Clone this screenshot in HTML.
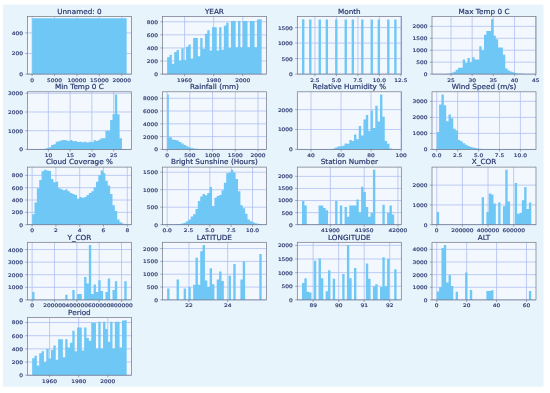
<!DOCTYPE html>
<html><head><meta charset="utf-8"><title>Histograms</title>
<style>html,body{margin:0;padding:0;background:#fff;width:550px;height:393px;overflow:hidden}svg{display:block;filter:blur(0.35px)}</style>
</head><body>
<svg width="550" height="393" viewBox="0 0 550 393">
<rect x="0" y="0" width="550" height="393" fill="#ffffff"/>
<rect x="2.8" y="4.6" width="540.7" height="382.2" fill="#e8f4fc"/>
<g fill="#f2f8fe"><rect x="27.4" y="16.5" width="104" height="57.6"/><rect x="162.4" y="16.5" width="104" height="57.6"/><rect x="297.3" y="16.5" width="104" height="57.6"/><rect x="432" y="16.5" width="104" height="57.6"/><rect x="27.4" y="91.8" width="104" height="57.6"/><rect x="162.4" y="91.8" width="104" height="57.6"/><rect x="297.3" y="91.8" width="104" height="57.6"/><rect x="432" y="91.8" width="104" height="57.6"/><rect x="27.4" y="167.1" width="104" height="57.6"/><rect x="162.4" y="167.1" width="104" height="57.6"/><rect x="297.3" y="167.1" width="104" height="57.6"/><rect x="432" y="167.1" width="104" height="57.6"/><rect x="27.4" y="242.3" width="104" height="57.6"/><rect x="162.4" y="242.3" width="104" height="57.6"/><rect x="297.3" y="242.3" width="104" height="57.6"/><rect x="432" y="242.3" width="104" height="57.6"/><rect x="27.4" y="317.6" width="104" height="57.6"/></g>
<path d="M32.13 16.5V74.1M54.53 16.5V74.1M76.94 16.5V74.1M99.34 16.5V74.1M121.74 16.5V74.1M27.4 74.1H131.4M27.4 53.49H131.4M27.4 32.88H131.4M184.58 16.5V74.1M213.67 16.5V74.1M242.76 16.5V74.1M162.4 74.1H266.4M162.4 61.02H266.4M162.4 47.94H266.4M162.4 34.85H266.4M162.4 21.77H266.4M314.92 16.5V74.1M336.41 16.5V74.1M357.9 16.5V74.1M379.38 16.5V74.1M400.87 16.5V74.1M297.3 74.1H401.3M297.3 58.58H401.3M297.3 43.07H401.3M297.3 27.55H401.3M450.99 16.5V74.1M472.15 16.5V74.1M493.31 16.5V74.1M514.47 16.5V74.1M535.63 16.5V74.1M432 74.1H536M432 62.16H536M432 50.22H536M432 38.28H536M432 26.34H536M48.39 91.8V149.4M70.14 91.8V149.4M91.88 91.8V149.4M113.63 91.8V149.4M27.4 149.4H131.4M27.4 130.7H131.4M27.4 112H131.4M27.4 93.3H131.4M167.13 91.8V149.4M189.85 91.8V149.4M212.58 91.8V149.4M235.31 91.8V149.4M258.04 91.8V149.4M162.4 149.4H266.4M162.4 136.62H266.4M162.4 123.83H266.4M162.4 111.05H266.4M162.4 98.27H266.4M311.03 91.8V149.4M341.05 91.8V149.4M371.06 91.8V149.4M401.07 91.8V149.4M297.3 149.4H401.3M297.3 129.5H401.3M297.3 109.61H401.3M436.73 91.8V149.4M457.64 91.8V149.4M478.56 91.8V149.4M499.48 91.8V149.4M520.4 91.8V149.4M432 149.4H536M432 133.38H536M432 117.36H536M432 101.35H536M32.13 167.1V224.7M55.91 167.1V224.7M79.7 167.1V224.7M103.48 167.1V224.7M127.27 167.1V224.7M27.4 224.7H131.4M27.4 212.37H131.4M27.4 200.03H131.4M27.4 187.7H131.4M27.4 175.36H131.4M167.13 167.1V224.7M188.48 167.1V224.7M209.83 167.1V224.7M231.18 167.1V224.7M252.53 167.1V224.7M162.4 224.7H266.4M162.4 207.19H266.4M162.4 189.68H266.4M162.4 172.18H266.4M330.39 167.1V224.7M364.16 167.1V224.7M397.92 167.1V224.7M297.3 224.7H401.3M297.3 212.61H401.3M297.3 200.53H401.3M297.3 188.44H401.3M297.3 176.36H401.3M436.73 167.1V224.7M462.38 167.1V224.7M488.04 167.1V224.7M513.7 167.1V224.7M432 224.7H536M432 204.91H536M432 185.11H536M32.13 242.3V299.9M54.48 242.3V299.9M76.83 242.3V299.9M99.18 242.3V299.9M121.53 242.3V299.9M27.4 299.9H131.4M27.4 287.32H131.4M27.4 274.73H131.4M27.4 262.15H131.4M27.4 249.56H131.4M188.98 242.3V299.9M227.64 242.3V299.9M162.4 299.9H266.4M162.4 287.07H266.4M162.4 274.23H266.4M162.4 261.4H266.4M162.4 248.56H266.4M313.13 242.3V299.9M338.65 242.3V299.9M364.16 242.3V299.9M389.68 242.3V299.9M297.3 299.9H401.3M297.3 286.27H401.3M297.3 272.64H401.3M297.3 259.01H401.3M297.3 245.38H401.3M436.73 242.3V299.9M466.65 242.3V299.9M496.57 242.3V299.9M526.49 242.3V299.9M432 299.9H536M432 287.27H536M432 274.63H536M432 262H536M432 249.36H536M49.58 317.6V375.2M78.67 317.6V375.2M107.76 317.6V375.2M27.4 375.2H131.4M27.4 362.03H131.4M27.4 348.87H131.4M27.4 335.7H131.4M27.4 322.54H131.4" stroke="#acbcf2" stroke-width="0.75" fill="none"/>
<path fill="#6fc7f5" d="M32.13 74.1V18.35H34.49V18.35H36.85V18.35H39.22V18.35H41.58V18.35H43.95V18.35H46.31V18.35H48.67V18.35H51.04V18.35H53.4V18.35H55.76V18.35H58.13V18.35H60.49V18.35H62.85V18.35H65.22V18.35H67.58V18.35H69.95V18.35H72.31V18.35H74.67V18.35H77.04V18.35H79.4V18.35H81.76V18.35H84.13V18.35H86.49V18.35H88.85V18.35H91.22V18.35H93.58V18.35H95.95V18.35H98.31V18.35H100.67V18.35H103.04V18.35H105.4V18.35H107.76V18.35H110.13V18.35H112.49V18.35H114.85V18.35H117.22V18.35H119.58V18.35H121.95V18.35H124.31V18.35H126.67V74.1ZM167.13 74.1V57.16H169.49V54.74H171.85V63.77H174.22V52.12H176.58V50.03H178.95V60.56H181.31V48.33H183.67V60.04H186.04V46.82H188.4V44.6H190.76V58.53H193.13V37.99H195.49V37.99H197.85V56.24H200.22V37.99H202.58V48.72H204.95V33.68H207.31V30.34H209.67V50.62H212.04V27.14H214.4V27.14H216.76V50.62H219.13V27.14H221.49V49.7H223.85V25.83H226.22V22.82H228.58V47.81H230.95V20.92H233.31V20.92H235.67V47.22H238.04V20.92H240.4V47.22H242.76V20.92H245.13V20.92H247.49V47.22H249.85V20.92H252.22V20.92H254.58V47.22H256.95V19.61H259.31V19.24H261.67V74.1ZM302.03 74.1V19.24H304.39V74.1ZM309.12 74.1V19.48H311.48V74.1ZM318.57 74.1V19.48H320.94V74.1ZM325.66 74.1V19.48H328.03V74.1ZM335.12 74.1V19.48H337.48V74.1ZM344.57 74.1V19.48H346.94V74.1ZM351.66 74.1V19.48H354.03V74.1ZM361.12 74.1V19.48H363.48V74.1ZM370.57 74.1V19.48H372.94V74.1ZM377.66 74.1V19.48H380.03V74.1ZM387.12 74.1V19.48H389.48V74.1ZM394.21 74.1V19.48H396.57V74.1ZM436.73 74.1V74.05H439.09V74.03H441.45V73.98H443.82V73.91H446.18V73.74H448.55V73.38H450.91V72.67H453.27V71.71H455.64V69.8H458V67.65H460.36V67.65H462.73V59.41H465.09V63.11H467.45V58.1H469.82V62.16H472.18V57.14H474.55V59.41H476.91V59.41H479.27V46.16H481.64V50.22H484V34.7H486.36V31.11H488.73V31.11H491.09V19.24H493.45V35.65H495.82V39.23H498.18V47.47H500.55V47.47H502.91V54.76H505.27V68.61H507.64V70.52H510V71.47H512.36V72.19H514.73V72.91H517.09V73.38H519.45V73.62H521.82V73.81H524.18V73.91H526.55V73.98H528.91V74.03H531.27V74.1ZM32.13 149.4V149.34H34.49V149.31H36.85V149.25H39.22V149.18H41.58V149.06H43.95V148.84H46.31V148.09H48.67V147.16H51.04V145.1H53.4V144.16H55.76V141.73H58.13V141.36H60.49V140.33H62.85V139.96H65.22V140.33H67.58V140.98H69.95V139.96H72.31V141.36H74.67V140.98H77.04V141.92H79.4V141.73H81.76V142.29H84.13V141.73H86.49V142.48H88.85V141.73H91.22V142.29H93.58V140.33H95.95V140.98H98.31V139.77H100.67V138.37H103.04V138.37H105.4V130.7H107.76V130.7H110.13V120.04H112.49V114.24H114.85V94.54H117.22V114.24H119.58V138.37H121.95V149.03H124.31V149.31H126.67V149.4ZM167.13 149.4V94.54H168.83V137.26H171.85V139.49H174.22V140.04H176.58V140.58H178.95V141.92H181.31V143.39H183.67V145.09H186.04V146.2H188.4V147.16H190.76V147.9H193.13V148.44H195.49V148.82H197.85V149.02H200.22V149.14H202.58V149.22H204.95V149.27H207.31V149.31H209.67V149.34H212.04V149.36H214.4V149.37H216.76V149.37H219.13V149.38H221.49V149.39H223.85V149.39H226.22V149.39H228.58V149.39H230.95V149.39H233.31V149.39H235.67V149.39H238.04V149.39H240.4V149.4ZM259.31 149.4V149.39H261.67V149.4ZM302.03 149.4V149.38H304.39V149.38H306.75V149.38H309.12V149.36H311.48V149.36H313.85V149.34H316.21V149.32H318.57V149.3H320.94V149.28H323.3V149.24H325.66V149.2H328.03V149.12H330.39V149H332.75V148.46H335.12V147.53H337.48V146.61H339.85V146.22H342.21V145.68H344.57V143.43H346.94V143.83H349.3V140.05H351.66V141.04H354.03V134.48H356.39V139.15H358.75V126.12H361.12V135.47H363.48V119.56H365.85V114.98H368.21V130.8H370.57V110.4H372.94V128.01H375.3V105.63H377.66V121.55H380.03V94.54H382.39V116.77H384.75V141.04H387.12V143.83H389.48V148.46H391.85V149.3H394.21V149.38H396.57V149.4ZM436.73 149.4V131.94H439.09V104.55H441.45V94.54H443.82V105.35H446.18V121.21H448.55V114.56H450.91V118.33H453.27V128.74H455.64V130.58H458V139.95H460.36V141.31H462.73V143.15H465.09V144.67H467.45V146.04H469.82V147H472.18V147.53H474.55V148.12H476.91V148.6H479.27V148.84H481.64V149H484V149.11H486.36V149.21H488.73V149.27H491.09V149.3H493.45V149.34H495.82V149.35H498.18V149.37H500.55V149.37H502.91V149.38H505.27V149.38H507.64V149.38H510V149.38H512.36V149.4ZM528.91 149.4V149.38H531.27V149.4ZM32.13 224.7V214.22H34.49V202.5H36.85V188.31H39.22V179.99H41.58V171.36H43.95V169.84H46.31V170.43H48.67V170.92H51.04V179.06H53.4V182.15H55.76V181.84H58.13V188.31H60.49V189.24H62.85V190.29H65.22V189.36H67.58V191.21H69.95V193.12H72.31V194.05H74.67V194.97H77.04V198.74H79.4V196.89H81.76V197.81H84.13V196.89H86.49V194.97H88.85V193.12H91.22V191.21H93.58V187.45H95.95V181.84H98.31V175.24H100.67V170.43H103.04V173.33H105.4V180.85H107.76V185.6H110.13V194.05H112.49V205.34H114.85V210.95H117.22V219.46H119.58V222.23H121.95V223.59H124.31V224.14H126.67V224.7ZM167.13 224.7V224.59H169.49V224.56H171.85V224.49H174.22V224.42H176.58V224.28H178.95V224.07H181.31V223.58H183.67V222.81H186.04V221.3H188.4V219.45H190.76V216.61H193.13V214.2H195.49V209.08H197.85V200.99H200.22V196.48H202.58V194.03H204.95V195.36H207.31V193.08H209.67V187.06H212.04V205.9H214.4V197.77H216.76V195.92H219.13V194.97H221.49V190.25H223.85V182.72H226.22V173.3H228.58V172.39H230.95V169.84H233.31V172.39H235.67V178.97H238.04V191.19H240.4V205.3H242.76V208.14H245.13V213.78H247.49V219.45H249.85V221.3H252.22V222.25H254.58V223.19H256.95V223.75H259.31V224.14H261.67V224.7ZM302.03 224.7V200.92H304.39V205.6H306.75V224.7ZM318.57 224.7V205.6H320.94V205.6H323.3V208.02H325.66V210.27H328.03V224.7ZM335.12 224.7V200.92H337.48V224.7ZM339.85 224.7V205.6H342.21V224.7ZM344.57 224.7V206.91H346.94V216.84H349.3V205.6H351.66V205.6H354.03V205.6H356.39V199.42H358.75V212.16H361.12V186.87H363.48V192.12H365.85V206.91H368.21V216.84H370.57V213.1H372.94V169.84H375.3V224.7ZM382.39 224.7V204.66H384.75V224.7ZM387.12 224.7V213.1H389.48V205.6H391.85V214.4H394.21V224.7ZM436.73 224.7V211.89H439.09V224.7ZM481.64 224.7V197.19H484V224.7ZM486.36 224.7V211.89H488.73V193.43H491.09V194.55H493.45V203.4H495.82V224.7ZM498.18 224.7V202.47H500.55V224.7ZM502.91 224.7V206.23H505.27V169.84H507.64V201.52H510V224.7ZM514.73 224.7V183.05H517.09V213.77H519.45V212.82H521.82V200.2H524.18V187.01H526.55V209.06H528.91V202.47H531.27V224.7ZM32.13 299.9V291.9H34.49V299.9ZM65.22 299.9V294.69H67.58V299.9ZM72.31 299.9V290.03H74.67V299.9ZM77.04 299.9V294.12H79.4V294.12H81.76V299.9ZM84.13 299.9V277H86.49V283.51H88.85V245.04H91.22V294.12H93.58V284.45H95.95V291.9H98.31V280.34H100.67V290.96H103.04V299.9ZM105.4 299.9V291.9H107.76V278.48H110.13V299.9ZM112.49 299.9V290.03H114.85V281.27H117.22V299.9ZM124.31 299.9V281.27H126.67V299.9ZM167.13 299.9V288.58H169.49V299.9ZM176.58 299.9V279.52H178.95V299.9ZM183.67 299.9V288.58H186.04V299.9ZM188.4 299.9V287.07H190.76V299.9ZM193.13 299.9V284.81H195.49V257.8H197.85V284.81H200.22V251.23H202.58V245.04H204.95V280.47H207.31V287.07H209.67V268.2H212.04V284.24H214.4V299.9ZM216.76 299.9V279.52H219.13V271.59H221.49V281.03H223.85V299.9ZM228.58 299.9V275.75H230.95V299.9ZM233.31 299.9V264.04H235.67V299.9ZM240.4 299.9V279.52H242.76V261.6H245.13V299.9ZM259.31 299.9V254.06H261.67V299.9ZM302.03 299.9V282.97H304.39V278.26H306.75V291.8H309.12V292.38H311.48V299.9ZM313.85 299.9V260.78H316.21V299.9ZM318.57 299.9V258.52H320.94V278.26H323.3V299.9ZM325.66 299.9V291.26H328.03V270.19H330.39V299.9ZM332.75 299.9V278.64H335.12V299.9ZM342.21 299.9V273.95H344.57V299.9ZM346.94 299.9V245.04H349.3V278.26H351.66V299.9ZM354.03 299.9V267.92H356.39V299.9ZM365.85 299.9V263.59H368.21V278.64H370.57V299.9ZM372.94 299.9V286.16H375.3V284.28H377.66V299.9ZM380.03 299.9V287.12H382.39V257.37H384.75V286.16H387.12V258.9H389.48V299.9ZM394.21 299.9V269.23H396.57V299.9ZM436.73 299.9V291.43H439.09V286.89H441.45V248.1H443.82V245.04H446.18V282.52H448.55V275.04H450.91V285.88H453.27V299.9ZM455.64 299.9V291.86H458V299.9ZM465.09 299.9V272.61H467.45V299.9ZM469.82 299.9V289.99H472.18V299.9ZM486.36 299.9V290.93H488.73V290.93H491.09V290.3H493.45V299.9ZM528.91 299.9V290.93H531.27V299.9ZM32.13 375.2V358.15H34.49V355.85H36.85V365.52H39.22V353.34H41.58V351.37H43.95V362.03H46.31V348.87H48.67V358.55H51.04V350.05H53.4V345.58H55.76V359.73H58.13V339.19H60.49V339.19H62.85V357.23H65.22V339.19H67.58V347.55H69.95V342.68H72.31V330.7H74.67V351.37H77.04V327.61H79.4V327.61H81.76V350.45H84.13V327.61H86.49V337.88H88.85V340.77H91.22V322.73H93.58V322.73H95.95V348.54H98.31V321.81H100.67V348.54H103.04V321.81H105.4V329.12H107.76V341.76H110.13V321.81H112.49V348.54H114.85V321.81H117.22V321.81H119.58V347.55H121.95V320.43H124.31V320.34H126.67V375.2Z"/>
<g fill="none" stroke="#707483" stroke-width="0.7"><rect x="27.4" y="16.5" width="104" height="57.6"/><rect x="162.4" y="16.5" width="104" height="57.6"/><rect x="297.3" y="16.5" width="104" height="57.6"/><rect x="432" y="16.5" width="104" height="57.6"/><rect x="27.4" y="91.8" width="104" height="57.6"/><rect x="162.4" y="91.8" width="104" height="57.6"/><rect x="297.3" y="91.8" width="104" height="57.6"/><rect x="432" y="91.8" width="104" height="57.6"/><rect x="27.4" y="167.1" width="104" height="57.6"/><rect x="162.4" y="167.1" width="104" height="57.6"/><rect x="297.3" y="167.1" width="104" height="57.6"/><rect x="432" y="167.1" width="104" height="57.6"/><rect x="27.4" y="242.3" width="104" height="57.6"/><rect x="162.4" y="242.3" width="104" height="57.6"/><rect x="297.3" y="242.3" width="104" height="57.6"/><rect x="432" y="242.3" width="104" height="57.6"/><rect x="27.4" y="317.6" width="104" height="57.6"/></g>
<path d="M32.13 74.1V76.2M54.53 74.1V76.2M76.94 74.1V76.2M99.34 74.1V76.2M121.74 74.1V76.2M25.3 74.1H27.4M25.3 53.49H27.4M25.3 32.88H27.4M184.58 74.1V76.2M213.67 74.1V76.2M242.76 74.1V76.2M160.3 74.1H162.4M160.3 61.02H162.4M160.3 47.94H162.4M160.3 34.85H162.4M160.3 21.77H162.4M314.92 74.1V76.2M336.41 74.1V76.2M357.9 74.1V76.2M379.38 74.1V76.2M400.87 74.1V76.2M295.2 74.1H297.3M295.2 58.58H297.3M295.2 43.07H297.3M295.2 27.55H297.3M450.99 74.1V76.2M472.15 74.1V76.2M493.31 74.1V76.2M514.47 74.1V76.2M535.63 74.1V76.2M429.9 74.1H432M429.9 62.16H432M429.9 50.22H432M429.9 38.28H432M429.9 26.34H432M48.39 149.4V151.5M70.14 149.4V151.5M91.88 149.4V151.5M113.63 149.4V151.5M25.3 149.4H27.4M25.3 130.7H27.4M25.3 112H27.4M25.3 93.3H27.4M167.13 149.4V151.5M189.85 149.4V151.5M212.58 149.4V151.5M235.31 149.4V151.5M258.04 149.4V151.5M160.3 149.4H162.4M160.3 136.62H162.4M160.3 123.83H162.4M160.3 111.05H162.4M160.3 98.27H162.4M311.03 149.4V151.5M341.05 149.4V151.5M371.06 149.4V151.5M401.07 149.4V151.5M295.2 149.4H297.3M295.2 129.5H297.3M295.2 109.61H297.3M436.73 149.4V151.5M457.64 149.4V151.5M478.56 149.4V151.5M499.48 149.4V151.5M520.4 149.4V151.5M429.9 149.4H432M429.9 133.38H432M429.9 117.36H432M429.9 101.35H432M32.13 224.7V226.8M55.91 224.7V226.8M79.7 224.7V226.8M103.48 224.7V226.8M127.27 224.7V226.8M25.3 224.7H27.4M25.3 212.37H27.4M25.3 200.03H27.4M25.3 187.7H27.4M25.3 175.36H27.4M167.13 224.7V226.8M188.48 224.7V226.8M209.83 224.7V226.8M231.18 224.7V226.8M252.53 224.7V226.8M160.3 224.7H162.4M160.3 207.19H162.4M160.3 189.68H162.4M160.3 172.18H162.4M330.39 224.7V226.8M364.16 224.7V226.8M397.92 224.7V226.8M295.2 224.7H297.3M295.2 212.61H297.3M295.2 200.53H297.3M295.2 188.44H297.3M295.2 176.36H297.3M436.73 224.7V226.8M462.38 224.7V226.8M488.04 224.7V226.8M513.7 224.7V226.8M429.9 224.7H432M429.9 204.91H432M429.9 185.11H432M32.13 299.9V302M54.48 299.9V302M76.83 299.9V302M99.18 299.9V302M121.53 299.9V302M25.3 299.9H27.4M25.3 287.32H27.4M25.3 274.73H27.4M25.3 262.15H27.4M25.3 249.56H27.4M188.98 299.9V302M227.64 299.9V302M160.3 299.9H162.4M160.3 287.07H162.4M160.3 274.23H162.4M160.3 261.4H162.4M160.3 248.56H162.4M313.13 299.9V302M338.65 299.9V302M364.16 299.9V302M389.68 299.9V302M295.2 299.9H297.3M295.2 286.27H297.3M295.2 272.64H297.3M295.2 259.01H297.3M295.2 245.38H297.3M436.73 299.9V302M466.65 299.9V302M496.57 299.9V302M526.49 299.9V302M429.9 299.9H432M429.9 287.27H432M429.9 274.63H432M429.9 262H432M429.9 249.36H432M49.58 375.2V377.3M78.67 375.2V377.3M107.76 375.2V377.3M25.3 375.2H27.4M25.3 362.03H27.4M25.3 348.87H27.4M25.3 335.7H27.4M25.3 322.54H27.4" stroke="#707483" stroke-width="0.6" fill="none"/>
<g fill="#29366c" stroke="#29366c" stroke-width="0.2" font-family="DejaVu Sans, sans-serif" font-size="5.9"><text transform="translate(32.13 81.6) scale(1 0.82)" text-anchor="middle">0</text><text transform="translate(54.53 81.6) scale(1 0.82)" text-anchor="middle">5000</text><text transform="translate(76.94 81.6) scale(1 0.82)" text-anchor="middle">10000</text><text transform="translate(99.34 81.6) scale(1 0.82)" text-anchor="middle">15000</text><text transform="translate(121.74 81.6) scale(1 0.82)" text-anchor="middle">20000</text><text transform="translate(22.95 76.05) scale(1 0.82)" text-anchor="end">0</text><text transform="translate(22.95 55.44) scale(1 0.82)" text-anchor="end">200</text><text transform="translate(22.95 34.83) scale(1 0.82)" text-anchor="end">400</text><text transform="translate(184.58 81.6) scale(1 0.82)" text-anchor="middle">1960</text><text transform="translate(213.67 81.6) scale(1 0.82)" text-anchor="middle">1980</text><text transform="translate(242.76 81.6) scale(1 0.82)" text-anchor="middle">2000</text><text transform="translate(157.95 76.05) scale(1 0.82)" text-anchor="end">0</text><text transform="translate(157.95 62.97) scale(1 0.82)" text-anchor="end">200</text><text transform="translate(157.95 49.89) scale(1 0.82)" text-anchor="end">400</text><text transform="translate(157.95 36.8) scale(1 0.82)" text-anchor="end">600</text><text transform="translate(157.95 23.72) scale(1 0.82)" text-anchor="end">800</text><text transform="translate(314.92 81.6) scale(1 0.82)" text-anchor="middle">2.5</text><text transform="translate(336.41 81.6) scale(1 0.82)" text-anchor="middle">5.0</text><text transform="translate(357.9 81.6) scale(1 0.82)" text-anchor="middle">7.5</text><text transform="translate(379.38 81.6) scale(1 0.82)" text-anchor="middle">10.0</text><text transform="translate(400.87 81.6) scale(1 0.82)" text-anchor="middle">12.5</text><text transform="translate(292.85 76.05) scale(1 0.82)" text-anchor="end">0</text><text transform="translate(292.85 60.53) scale(1 0.82)" text-anchor="end">500</text><text transform="translate(292.85 45.02) scale(1 0.82)" text-anchor="end">1000</text><text transform="translate(292.85 29.5) scale(1 0.82)" text-anchor="end">1500</text><text transform="translate(450.99 81.6) scale(1 0.82)" text-anchor="middle">25</text><text transform="translate(472.15 81.6) scale(1 0.82)" text-anchor="middle">30</text><text transform="translate(493.31 81.6) scale(1 0.82)" text-anchor="middle">35</text><text transform="translate(514.47 81.6) scale(1 0.82)" text-anchor="middle">40</text><text transform="translate(535.63 81.6) scale(1 0.82)" text-anchor="middle">45</text><text transform="translate(427.55 76.05) scale(1 0.82)" text-anchor="end">0</text><text transform="translate(427.55 64.11) scale(1 0.82)" text-anchor="end">500</text><text transform="translate(427.55 52.17) scale(1 0.82)" text-anchor="end">1000</text><text transform="translate(427.55 40.23) scale(1 0.82)" text-anchor="end">1500</text><text transform="translate(427.55 28.29) scale(1 0.82)" text-anchor="end">2000</text><text transform="translate(48.39 156.9) scale(1 0.82)" text-anchor="middle">10</text><text transform="translate(70.14 156.9) scale(1 0.82)" text-anchor="middle">15</text><text transform="translate(91.88 156.9) scale(1 0.82)" text-anchor="middle">20</text><text transform="translate(113.63 156.9) scale(1 0.82)" text-anchor="middle">25</text><text transform="translate(22.95 151.35) scale(1 0.82)" text-anchor="end">0</text><text transform="translate(22.95 132.65) scale(1 0.82)" text-anchor="end">1000</text><text transform="translate(22.95 113.95) scale(1 0.82)" text-anchor="end">2000</text><text transform="translate(22.95 95.25) scale(1 0.82)" text-anchor="end">3000</text><text transform="translate(167.13 156.9) scale(1 0.82)" text-anchor="middle">0</text><text transform="translate(189.85 156.9) scale(1 0.82)" text-anchor="middle">500</text><text transform="translate(212.58 156.9) scale(1 0.82)" text-anchor="middle">1000</text><text transform="translate(235.31 156.9) scale(1 0.82)" text-anchor="middle">1500</text><text transform="translate(258.04 156.9) scale(1 0.82)" text-anchor="middle">2000</text><text transform="translate(157.95 151.35) scale(1 0.82)" text-anchor="end">0</text><text transform="translate(157.95 138.57) scale(1 0.82)" text-anchor="end">2000</text><text transform="translate(157.95 125.78) scale(1 0.82)" text-anchor="end">4000</text><text transform="translate(157.95 113) scale(1 0.82)" text-anchor="end">6000</text><text transform="translate(157.95 100.22) scale(1 0.82)" text-anchor="end">8000</text><text transform="translate(311.03 156.9) scale(1 0.82)" text-anchor="middle">40</text><text transform="translate(341.05 156.9) scale(1 0.82)" text-anchor="middle">60</text><text transform="translate(371.06 156.9) scale(1 0.82)" text-anchor="middle">80</text><text transform="translate(401.07 156.9) scale(1 0.82)" text-anchor="middle">100</text><text transform="translate(292.85 151.35) scale(1 0.82)" text-anchor="end">0</text><text transform="translate(292.85 131.45) scale(1 0.82)" text-anchor="end">1000</text><text transform="translate(292.85 111.56) scale(1 0.82)" text-anchor="end">2000</text><text transform="translate(436.73 156.9) scale(1 0.82)" text-anchor="middle">0.0</text><text transform="translate(457.64 156.9) scale(1 0.82)" text-anchor="middle">2.5</text><text transform="translate(478.56 156.9) scale(1 0.82)" text-anchor="middle">5.0</text><text transform="translate(499.48 156.9) scale(1 0.82)" text-anchor="middle">7.5</text><text transform="translate(520.4 156.9) scale(1 0.82)" text-anchor="middle">10.0</text><text transform="translate(427.55 151.35) scale(1 0.82)" text-anchor="end">0</text><text transform="translate(427.55 135.33) scale(1 0.82)" text-anchor="end">1000</text><text transform="translate(427.55 119.31) scale(1 0.82)" text-anchor="end">2000</text><text transform="translate(427.55 103.3) scale(1 0.82)" text-anchor="end">3000</text><text transform="translate(32.13 232.2) scale(1 0.82)" text-anchor="middle">0</text><text transform="translate(55.91 232.2) scale(1 0.82)" text-anchor="middle">2</text><text transform="translate(79.7 232.2) scale(1 0.82)" text-anchor="middle">4</text><text transform="translate(103.48 232.2) scale(1 0.82)" text-anchor="middle">6</text><text transform="translate(127.27 232.2) scale(1 0.82)" text-anchor="middle">8</text><text transform="translate(22.95 226.65) scale(1 0.82)" text-anchor="end">0</text><text transform="translate(22.95 214.32) scale(1 0.82)" text-anchor="end">200</text><text transform="translate(22.95 201.98) scale(1 0.82)" text-anchor="end">400</text><text transform="translate(22.95 189.65) scale(1 0.82)" text-anchor="end">600</text><text transform="translate(22.95 177.31) scale(1 0.82)" text-anchor="end">800</text><text transform="translate(167.13 232.2) scale(1 0.82)" text-anchor="middle">0.0</text><text transform="translate(188.48 232.2) scale(1 0.82)" text-anchor="middle">2.5</text><text transform="translate(209.83 232.2) scale(1 0.82)" text-anchor="middle">5.0</text><text transform="translate(231.18 232.2) scale(1 0.82)" text-anchor="middle">7.5</text><text transform="translate(252.53 232.2) scale(1 0.82)" text-anchor="middle">10.0</text><text transform="translate(157.95 226.65) scale(1 0.82)" text-anchor="end">0</text><text transform="translate(157.95 209.14) scale(1 0.82)" text-anchor="end">500</text><text transform="translate(157.95 191.63) scale(1 0.82)" text-anchor="end">1000</text><text transform="translate(157.95 174.13) scale(1 0.82)" text-anchor="end">1500</text><text transform="translate(330.39 232.2) scale(1 0.82)" text-anchor="middle">41900</text><text transform="translate(364.16 232.2) scale(1 0.82)" text-anchor="middle">41950</text><text transform="translate(397.92 232.2) scale(1 0.82)" text-anchor="middle">42000</text><text transform="translate(292.85 226.65) scale(1 0.82)" text-anchor="end">0</text><text transform="translate(292.85 214.56) scale(1 0.82)" text-anchor="end">500</text><text transform="translate(292.85 202.48) scale(1 0.82)" text-anchor="end">1000</text><text transform="translate(292.85 190.39) scale(1 0.82)" text-anchor="end">1500</text><text transform="translate(292.85 178.31) scale(1 0.82)" text-anchor="end">2000</text><text transform="translate(436.73 232.2) scale(1 0.82)" text-anchor="middle">0</text><text transform="translate(462.38 232.2) scale(1 0.82)" text-anchor="middle">200000</text><text transform="translate(488.04 232.2) scale(1 0.82)" text-anchor="middle">400000</text><text transform="translate(513.7 232.2) scale(1 0.82)" text-anchor="middle">600000</text><text transform="translate(427.55 226.65) scale(1 0.82)" text-anchor="end">0</text><text transform="translate(427.55 206.86) scale(1 0.82)" text-anchor="end">1000</text><text transform="translate(427.55 187.06) scale(1 0.82)" text-anchor="end">2000</text><text transform="translate(32.13 307.4) scale(1 0.82)" text-anchor="middle">0</text><text transform="translate(54.48 307.4) scale(1 0.82)" text-anchor="middle">200000</text><text transform="translate(76.83 307.4) scale(1 0.82)" text-anchor="middle">400000</text><text transform="translate(99.18 307.4) scale(1 0.82)" text-anchor="middle">600000</text><text transform="translate(121.53 307.4) scale(1 0.82)" text-anchor="middle">800000</text><text transform="translate(22.95 301.85) scale(1 0.82)" text-anchor="end">0</text><text transform="translate(22.95 289.27) scale(1 0.82)" text-anchor="end">1000</text><text transform="translate(22.95 276.68) scale(1 0.82)" text-anchor="end">2000</text><text transform="translate(22.95 264.1) scale(1 0.82)" text-anchor="end">3000</text><text transform="translate(22.95 251.51) scale(1 0.82)" text-anchor="end">4000</text><text transform="translate(188.98 307.4) scale(1 0.82)" text-anchor="middle">22</text><text transform="translate(227.64 307.4) scale(1 0.82)" text-anchor="middle">24</text><text transform="translate(157.95 301.85) scale(1 0.82)" text-anchor="end">0</text><text transform="translate(157.95 289.02) scale(1 0.82)" text-anchor="end">500</text><text transform="translate(157.95 276.18) scale(1 0.82)" text-anchor="end">1000</text><text transform="translate(157.95 263.35) scale(1 0.82)" text-anchor="end">1500</text><text transform="translate(157.95 250.51) scale(1 0.82)" text-anchor="end">2000</text><text transform="translate(313.13 307.4) scale(1 0.82)" text-anchor="middle">89</text><text transform="translate(338.65 307.4) scale(1 0.82)" text-anchor="middle">90</text><text transform="translate(364.16 307.4) scale(1 0.82)" text-anchor="middle">91</text><text transform="translate(389.68 307.4) scale(1 0.82)" text-anchor="middle">92</text><text transform="translate(292.85 301.85) scale(1 0.82)" text-anchor="end">0</text><text transform="translate(292.85 288.22) scale(1 0.82)" text-anchor="end">500</text><text transform="translate(292.85 274.59) scale(1 0.82)" text-anchor="end">1000</text><text transform="translate(292.85 260.96) scale(1 0.82)" text-anchor="end">1500</text><text transform="translate(292.85 247.33) scale(1 0.82)" text-anchor="end">2000</text><text transform="translate(436.73 307.4) scale(1 0.82)" text-anchor="middle">0</text><text transform="translate(466.65 307.4) scale(1 0.82)" text-anchor="middle">20</text><text transform="translate(496.57 307.4) scale(1 0.82)" text-anchor="middle">40</text><text transform="translate(526.49 307.4) scale(1 0.82)" text-anchor="middle">60</text><text transform="translate(427.55 301.85) scale(1 0.82)" text-anchor="end">0</text><text transform="translate(427.55 289.22) scale(1 0.82)" text-anchor="end">1000</text><text transform="translate(427.55 276.58) scale(1 0.82)" text-anchor="end">2000</text><text transform="translate(427.55 263.95) scale(1 0.82)" text-anchor="end">3000</text><text transform="translate(427.55 251.31) scale(1 0.82)" text-anchor="end">4000</text><text transform="translate(49.58 382.7) scale(1 0.82)" text-anchor="middle">1960</text><text transform="translate(78.67 382.7) scale(1 0.82)" text-anchor="middle">1980</text><text transform="translate(107.76 382.7) scale(1 0.82)" text-anchor="middle">2000</text><text transform="translate(22.95 377.15) scale(1 0.82)" text-anchor="end">0</text><text transform="translate(22.95 363.98) scale(1 0.82)" text-anchor="end">200</text><text transform="translate(22.95 350.82) scale(1 0.82)" text-anchor="end">400</text><text transform="translate(22.95 337.65) scale(1 0.82)" text-anchor="end">600</text><text transform="translate(22.95 324.49) scale(1 0.82)" text-anchor="end">800</text></g>
<g fill="#29366c" stroke="#29366c" stroke-width="0.2" font-family="DejaVu Sans, sans-serif" font-size="7.26" text-anchor="middle"><text transform="translate(79.4 13.7) scale(1 0.97)">Unnamed: 0</text><text transform="translate(214.4 13.7) scale(1 0.97)">YEAR</text><text transform="translate(349.3 13.7) scale(1 0.97)">Month</text><text transform="translate(484 13.7) scale(1 0.97)">Max Temp 0 C</text><text transform="translate(79.4 89) scale(1 0.97)">Min Temp 0 C</text><text transform="translate(214.4 89) scale(1 0.97)">Rainfall (mm)</text><text transform="translate(349.3 89) scale(1 0.97)">Relative Humidity %</text><text transform="translate(484 89) scale(1 0.97)">Wind Speed (m/s)</text><text transform="translate(79.4 164.3) scale(1 0.97)">Cloud Coverage %</text><text transform="translate(214.4 164.3) scale(1 0.97)">Bright Sunshine (Hours)</text><text transform="translate(349.3 164.3) scale(1 0.97)">Station Number</text><text transform="translate(484 164.3) scale(1 0.97)">X_COR</text><text transform="translate(79.4 239.5) scale(1 0.97)">Y_COR</text><text transform="translate(214.4 239.5) scale(1 0.97)">LATITUDE</text><text transform="translate(349.3 239.5) scale(1 0.97)">LONGITUDE</text><text transform="translate(484 239.5) scale(1 0.97)">ALT</text><text transform="translate(79.4 314.8) scale(1 0.97)">Period</text></g>
</svg>
</body></html>
